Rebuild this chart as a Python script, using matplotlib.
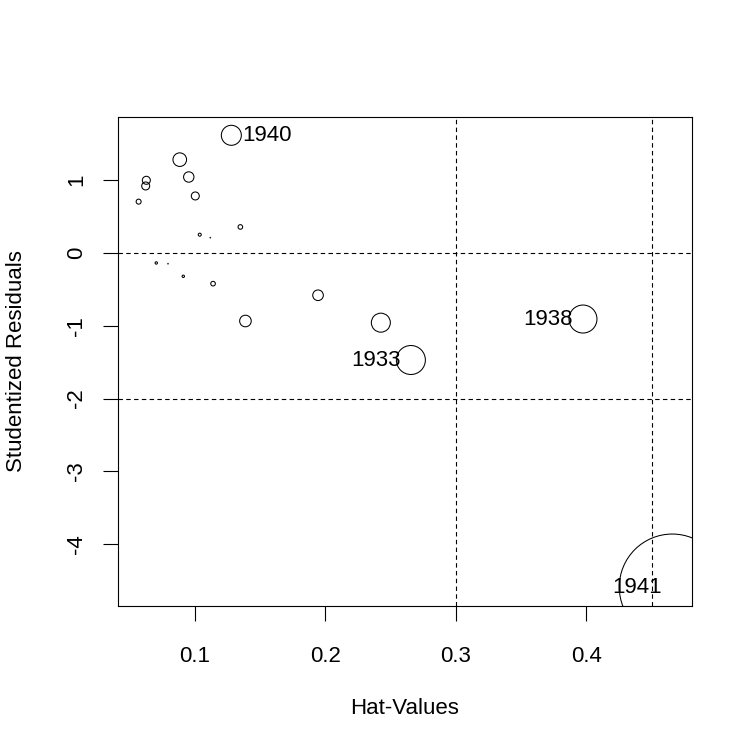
import numpy as np
import matplotlib
matplotlib.use('Agg')
from matplotlib import pyplot as plt

plt.rcParams['font.family'] = ['Liberation Sans', 'DejaVu Sans']

# influence plot values
hat_values = [0.1282, 0.0887, 0.0956, 0.0631, 0.0626, 0.1006, 0.0572, 0.1351,
              0.1040, 0.1121, 0.0707, 0.0797, 0.0914, 0.1142, 0.1946, 0.1390,
              0.2427, 0.2657, 0.3975, 0.4659]
stud_resid = [1.610, 1.276, 1.038, 0.993, 0.915, 0.778, 0.700, 0.353,
              0.247, 0.206, -0.141, -0.151, -0.324, -0.425, -0.584, -0.937,
              -0.960, -1.472, -0.910, -4.586]
cooks_d = [0.1139, 0.0527, 0.0308, 0.0182, 0.0182, 0.0182, 0.0071, 0.0060,
           0.0026, 0.0001, 0.0016, 0.0001, 0.0016, 0.0060, 0.0320, 0.0383,
           0.1028, 0.2395, 0.2233, 3.2000]
point_labels = {0: '1940', 17: '1933', 18: '1938', 19: '1941'}
mean_hat = 0.15

hat = np.array(hat_values)
rstud = np.array(stud_resid)
cook = np.array(cooks_d)

fs = 16

fig = plt.figure(figsize=(7.53, 7.53), dpi=100)
ax = fig.add_axes([118 / 753, 1 - 606 / 753, 574 / 753, 489 / 753])

# circle radius proportional to sqrt(Cook's D), biggest ~53 px
radius_px = 53 * np.sqrt(cook / cook.max())
sizes = (2 * radius_px * 0.72) ** 2
ax.scatter(hat, rstud, s=sizes, facecolors='none', edgecolors='black',
           linewidths=0.75, zorder=3)

for y in (-2, 0, 2):
    ax.axhline(y, color='black', ls=(0, (4, 3)), lw=0.8)
for x in (2 * mean_hat, 3 * mean_hat):
    ax.axvline(x, color='black', ls=(0, (4, 3)), lw=0.8)

for i, lab in point_labels.items():
    dx = 7.5 if lab == '1940' else -7.5
    ax.annotate(lab, (hat[i], rstud[i]), xytext=(dx, 0), textcoords='offset points',
                ha='left' if dx > 0 else 'right', va='center', fontsize=fs, zorder=4)

ax.set_xlim(0.0414, 0.481)
ax.set_ylim(-4.846, 1.861)
ax.set_xticks([0.1, 0.2, 0.3, 0.4])
ax.set_xticklabels(['0.1', '0.2', '0.3', '0.4'])
ax.set_yticks([-4, -3, -2, -1, 0, 1])
ax.set_yticklabels(['-4', '-3', '-2', '-1', '0', '1'])
ax.tick_params(axis='both', length=11, width=0.8, labelsize=fs, direction='out')
ax.tick_params(axis='x', pad=18)
ax.tick_params(axis='y', pad=11, labelrotation=90)
for lab in ax.get_yticklabels():
    lab.set_va('center')
for sp in ax.spines.values():
    sp.set_linewidth(0.8)

ax.set_xlabel('Hat-Values', fontsize=fs, va='center')
ax.set_ylabel('Studentized Residuals', fontsize=fs, va='center')
ax.xaxis.set_label_coords(0.5, -102 / 489)
ax.yaxis.set_label_coords(-101 / 574, 0.5)

fig.savefig('out.png', dpi=100)
